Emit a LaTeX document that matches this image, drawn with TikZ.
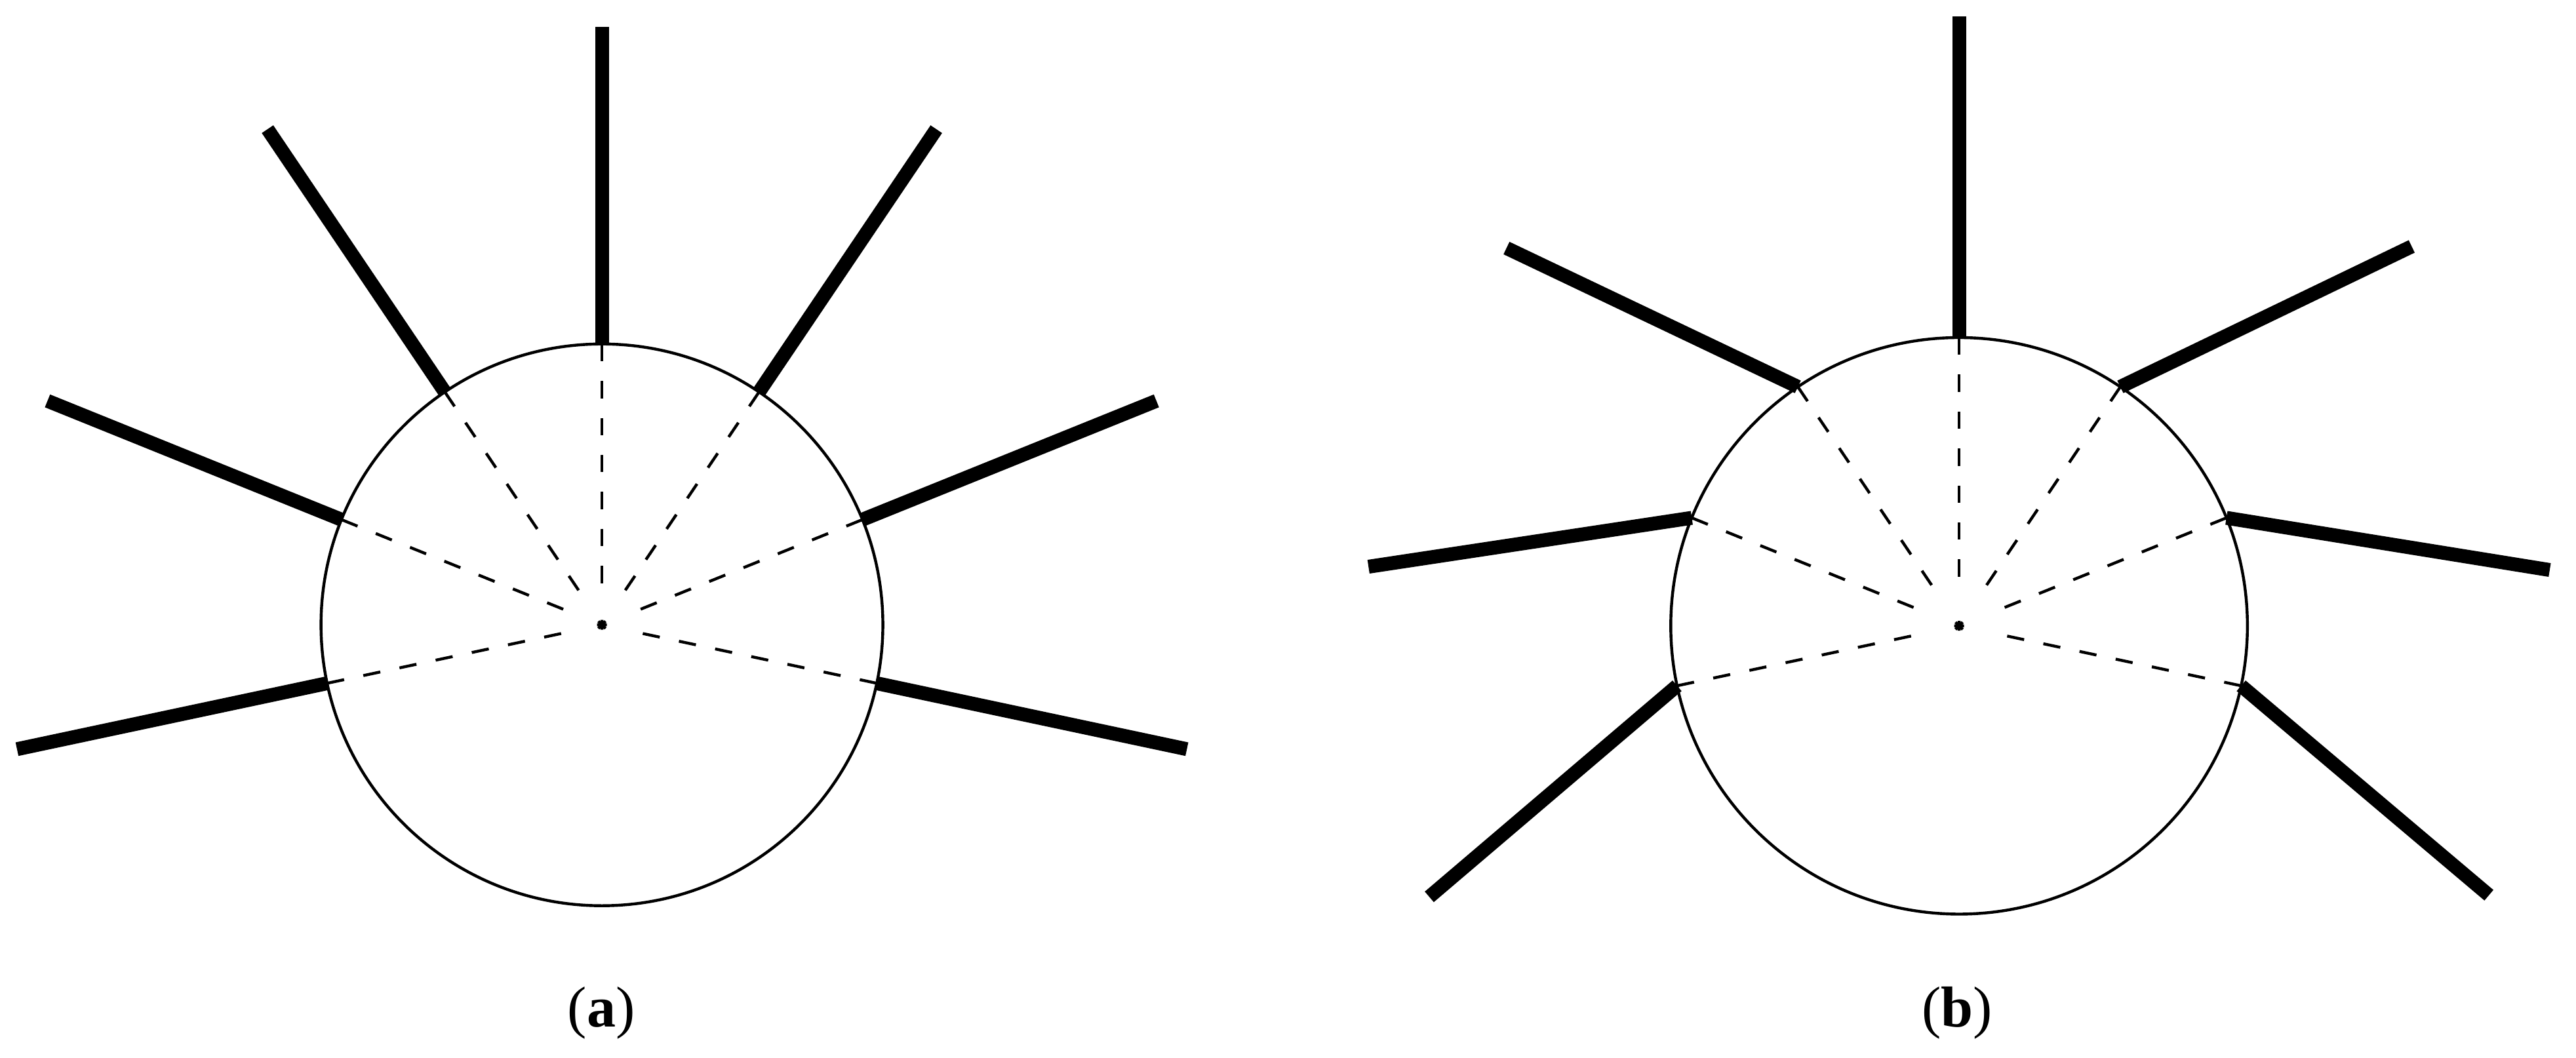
\documentclass[tikz,border=0pt]{standalone}
\usepackage{fontspec}
\setmainfont{Liberation Serif}
\usetikzlibrary{calc}
\begin{document}
\begin{tikzpicture}[x=0.01cm,y=-0.01cm,
  spoke/.style={line width=2.4pt, line cap=butt},
  rim/.style={line width=0.5pt},
  ray/.style={line width=0.5pt, dash pattern=on 3pt off 3.4pt, shorten >=6pt},
  ctrmark/.style={line width=0.5pt},
  lab/.style={anchor=base, inner sep=0pt, font=\fontsize{10}{12}\selectfont}]
\useasboundingbox (0,0) rectangle (1568,644);

% ---------- panel (a) ----------
\coordinate (ca) at (366.4,380.4);
\draw[rim] (ca) circle[radius=171];
\foreach \ang/\nm in {90/t,56/ur,124/ul,22/mr,158/ml,-12/lr,192/ll}{
  \coordinate (a\nm) at ($(ca)+(-\ang:171)$);
  \coordinate (A\nm) at ($(ca)+(-\ang:364)$);
  \draw[spoke] (a\nm) -- (A\nm);
  \draw[ray] (a\nm) -- (ca);
}
\draw[ctrmark] ($(ca)+(-3,0)$) -- ($(ca)+(3,0)$)
            ($(ca)+(0,-3)$) -- ($(ca)+(0,3)$)
            ($(ca)+(-2.2,-2.2)$) -- ($(ca)+(2.2,2.2)$)
            ($(ca)+(-2.2,2.2)$) -- ($(ca)+(2.2,-2.2)$);
\node[lab] (la) at (366,625.3) {(\textbf{a})};

% ---------- panel (b) ----------
\coordinate (cb) at (1192.5,381);
\draw[rim] (cb) circle[radius=175.5];
\foreach \ang/\nm in {90/t,56/ur,124/ul,22/mr,158/ml,-12/lr,192/ll}{
  \coordinate (b\nm) at ($(cb)+(-\ang:175.5)$);
  \draw[ray] (b\nm) -- (cb);
}
\coordinate (Bt)  at (1192.5,10);
\coordinate (Bul) at (917,151);
\coordinate (Bur) at (1468,150);
\coordinate (Bml) at (833,345);
\coordinate (Bmr) at (1552,347);
\coordinate (Bll) at (870,546);
\coordinate (Blr) at (1515,545);
\foreach \nm in {t,ul,ur,ml,mr,ll,lr}{
  \draw[spoke] (b\nm) -- (B\nm);
}
\draw[ctrmark] ($(cb)+(-3,0)$) -- ($(cb)+(3,0)$)
            ($(cb)+(0,-3)$) -- ($(cb)+(0,3)$)
            ($(cb)+(-2.2,-2.2)$) -- ($(cb)+(2.2,2.2)$)
            ($(cb)+(-2.2,2.2)$) -- ($(cb)+(2.2,-2.2)$);
\node[lab] (lb) at (1191.3,625.3) {(\textbf{b})};
\end{tikzpicture}
\end{document}
